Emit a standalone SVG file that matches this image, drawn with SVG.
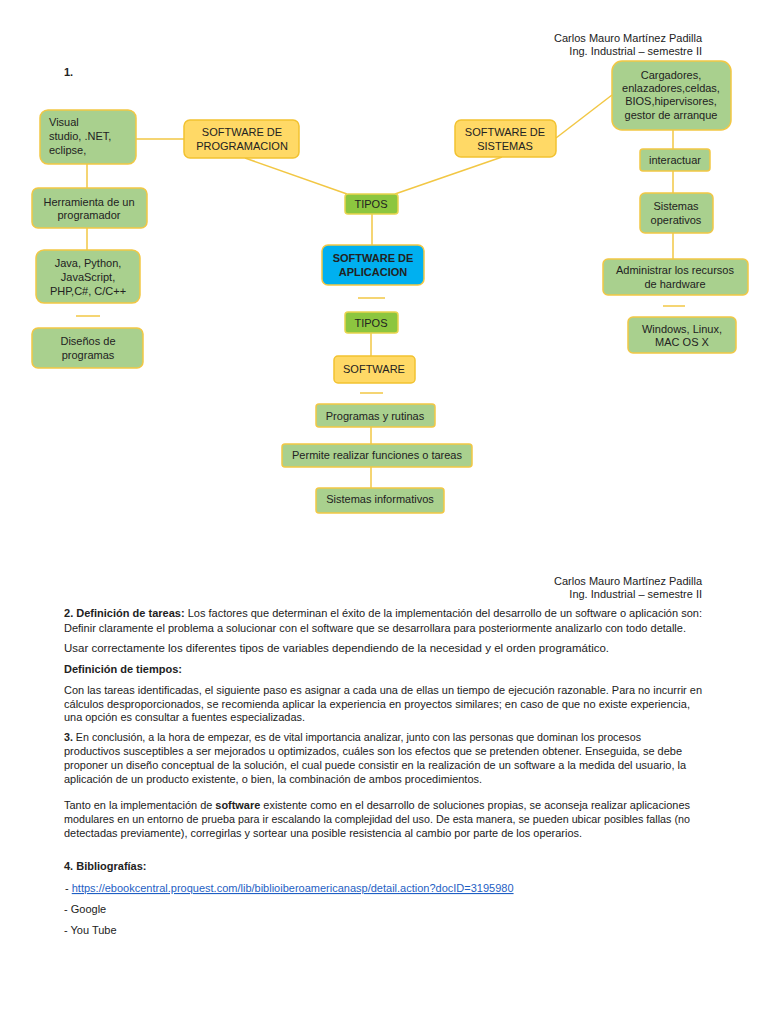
<svg xmlns="http://www.w3.org/2000/svg" width="768" height="1024" viewBox="0 0 768 1024">
<style>
text{font-family:"Liberation Sans",Arial,sans-serif;fill:#222;font-size:11px}
.c{text-anchor:middle}
.b{font-weight:bold}
.g{fill:#A9D08E;stroke:#F2C744;stroke-width:1.5}
.y{fill:#FFD966;stroke:#F2C230;stroke-width:1.5}
.t{fill:#8CC63F;stroke:#E8D44D;stroke-width:1.5}
.bl{fill:#00B0F0;stroke:#F2C744;stroke-width:1.5}
.ln{stroke:#F2C744;stroke-width:1.5;fill:none}
.body{font-size:11px}
.lnk{fill:#1F5FC4;text-decoration:underline}
</style>
<rect width="768" height="1024" fill="#fff"/>

<text x="64" y="76" class="b">1.</text>
<g id="header1">
<text x="702" y="42" text-anchor="end">Carlos Mauro Martínez Padilla</text>
<text x="702" y="55" text-anchor="end">Ing. Industrial – semestre II</text>
</g>

<g id="connectors">
<line class="ln" x1="136" y1="139" x2="184" y2="139"/>
<line class="ln" x1="87" y1="164" x2="87" y2="188"/>
<line class="ln" x1="87" y1="228" x2="87" y2="250"/>
<line class="ln" x1="76" y1="316" x2="100" y2="316"/>
<line class="ln" x1="245" y1="158" x2="347" y2="194"/>
<line class="ln" x1="502" y1="157" x2="395" y2="194"/>
<line class="ln" x1="556" y1="138" x2="612" y2="95"/>
<line class="ln" x1="372" y1="214" x2="372" y2="245"/>
<line class="ln" x1="358" y1="298" x2="385" y2="298"/>
<line class="ln" x1="371" y1="333" x2="371" y2="356"/>
<line class="ln" x1="360" y1="393" x2="383" y2="393"/>
<line class="ln" x1="371" y1="427" x2="371" y2="444"/>
<line class="ln" x1="371" y1="467" x2="371" y2="488"/>
<line class="ln" x1="673" y1="130" x2="673" y2="149"/>
<line class="ln" x1="673" y1="171" x2="673" y2="193"/>
<line class="ln" x1="673" y1="233" x2="673" y2="259"/>
<line class="ln" x1="663" y1="306" x2="685" y2="306"/>
</g>

<g id="vs"><rect class="g" x="40" y="110" width="96" height="54" rx="8"/>
<text x="49" y="126">Visual</text><text x="49" y="140">studio, .NET,</text><text x="49" y="154">eclipse,</text></g>
<g id="prog"><rect class="y" x="184" y="120" width="115" height="38" rx="6"/>
<text class="c" x="242" y="136">SOFTWARE DE</text><text class="c" x="242" y="150">PROGRAMACION</text></g>
<g id="herr"><rect class="g" x="32" y="188" width="115" height="40" rx="6"/>
<text class="c" x="89" y="206">Herramienta de un</text><text class="c" x="89" y="219">programador</text></g>
<g id="java"><rect class="g" x="36" y="250" width="104" height="53" rx="8"/>
<text class="c" x="88" y="267">Java, Python,</text><text class="c" x="88" y="281">JavaScript,</text><text class="c" x="88" y="295">PHP,C#, C/C++</text></g>
<g id="dis"><rect class="g" x="32" y="328" width="111" height="40" rx="6"/>
<text class="c" x="88" y="345">Diseños de</text><text class="c" x="88" y="359">programas</text></g>

<g id="tipos1"><rect class="t" x="345" y="194" width="53" height="20" rx="3"/>
<text class="c" x="371" y="208">TIPOS</text></g>
<g id="app"><rect class="bl" x="322" y="245" width="102" height="40" rx="6"/>
<text class="c b" x="373" y="262">SOFTWARE DE</text><text class="c b" x="373" y="276">APLICACION</text></g>
<g id="tipos2"><rect class="t" x="345" y="312" width="53" height="21" rx="3"/>
<text class="c" x="371" y="327">TIPOS</text></g>
<g id="software"><rect class="y" x="334" y="356" width="81" height="27" rx="4"/>
<text class="c" x="374" y="373">SOFTWARE</text></g>
<g id="rutinas"><rect class="g" x="316" y="404" width="119" height="23" rx="3"/>
<text class="c" x="375" y="420">Programas y rutinas</text></g>
<g id="permite"><rect class="g" x="282" y="444" width="190" height="23" rx="3"/>
<text class="c" x="377" y="459">Permite realizar funciones o tareas</text></g>
<g id="sinf"><rect class="g" x="316" y="488" width="128" height="25" rx="3"/>
<text class="c" x="380" y="503">Sistemas informativos</text></g>

<g id="sistemas"><rect class="y" x="455" y="120" width="101" height="37" rx="6"/>
<text class="c" x="505" y="136">SOFTWARE DE</text><text class="c" x="505" y="150">SISTEMAS</text></g>
<g id="carg"><rect class="g" x="612" y="61" width="119" height="69" rx="10"/>
<text class="c" x="671" y="79">Cargadores,</text><text class="c" x="671" y="92">enlazadores,celdas,</text><text class="c" x="671" y="105">BIOS,hipervisores,</text><text class="c" x="671" y="119">gestor de arranque</text></g>
<g id="inter"><rect class="g" x="640" y="149" width="70" height="22" rx="3"/>
<text class="c" x="675" y="164">interactuar</text></g>
<g id="so"><rect class="g" x="640" y="193" width="73" height="40" rx="5"/>
<text class="c" x="676" y="210">Sistemas</text><text class="c" x="676" y="224">operativos</text></g>
<g id="admin"><rect class="g" x="603" y="259" width="145" height="36" rx="5"/>
<text class="c" x="675" y="274">Administrar los recursos</text><text class="c" x="675" y="288">de hardware</text></g>
<g id="win"><rect class="g" x="628" y="317" width="108" height="36" rx="5"/>
<text class="c" x="682" y="333">Windows, Linux,</text><text class="c" x="682" y="346">MAC OS X</text></g>

<g id="header2">
<text x="702" y="585" text-anchor="end">Carlos Mauro Martínez Padilla</text>
<text x="702" y="598" text-anchor="end">Ing. Industrial – semestre II</text>
</g>

<g id="body">
<text x="64" y="617" textLength="638" lengthAdjust="spacingAndGlyphs"><tspan class="b">2. Definición de tareas:</tspan> Los factores que determinan el éxito de la implementación del desarrollo de un software o aplicación son:</text>
<text x="64" y="632" textLength="622" lengthAdjust="spacingAndGlyphs">Definir claramente el problema a solucionar con el software que se desarrollara para posteriormente analizarlo con todo detalle.</text>
<text x="64" y="652" textLength="545" lengthAdjust="spacingAndGlyphs">Usar correctamente los diferentes tipos de variables dependiendo de la necesidad y el orden programático.</text>
<text x="64" y="673" class="b">Definición de tiempos:</text>
<text x="64" y="694" textLength="638" lengthAdjust="spacingAndGlyphs">Con las tareas identificadas, el siguiente paso es asignar a cada una de ellas un tiempo de ejecución razonable. Para no incurrir en</text>
<text x="64" y="708" textLength="626" lengthAdjust="spacingAndGlyphs">cálculos desproporcionados, se recomienda aplicar la experiencia en proyectos similares; en caso de que no existe experiencia,</text>
<text x="64" y="721" textLength="241" lengthAdjust="spacingAndGlyphs">una opción es consultar a fuentes especializadas.</text>
<text x="64" y="741" textLength="577" lengthAdjust="spacingAndGlyphs"><tspan class="b">3.</tspan> En conclusión, a la hora de empezar, es de vital importancia analizar, junto con las personas que dominan los procesos</text>
<text x="64" y="755" textLength="618" lengthAdjust="spacingAndGlyphs">productivos susceptibles a ser mejorados u optimizados, cuáles son los efectos que se pretenden obtener. Enseguida, se debe</text>
<text x="64" y="769" textLength="622" lengthAdjust="spacingAndGlyphs">proponer un diseño conceptual de la solución, el cual puede consistir en la realización de un software a la medida del usuario, la</text>
<text x="64" y="783" textLength="418" lengthAdjust="spacingAndGlyphs">aplicación de un producto existente, o bien, la combinación de ambos procedimientos.</text>
<text x="64" y="809" textLength="626" lengthAdjust="spacingAndGlyphs">Tanto en la implementación de <tspan class="b">software</tspan> existente como en el desarrollo de soluciones propias, se aconseja realizar aplicaciones</text>
<text x="64" y="823" textLength="626" lengthAdjust="spacingAndGlyphs">modulares en un entorno de prueba para ir escalando la complejidad del uso. De esta manera, se pueden ubicar posibles fallas (no</text>
<text x="64" y="837" textLength="518" lengthAdjust="spacingAndGlyphs">detectadas previamente), corregirlas y sortear una posible resistencia al cambio por parte de los operarios.</text>
<text x="64" y="870" class="b">4. Bibliografías:</text>
<text x="65" y="892">- <tspan class="lnk">https://ebookcentral.proquest.com/lib/biblioiberoamericanasp/detail.action?docID=3195980</tspan></text>
<text x="64" y="913">- Google</text>
<text x="64" y="934">- You Tube</text>
</g>
</svg>
